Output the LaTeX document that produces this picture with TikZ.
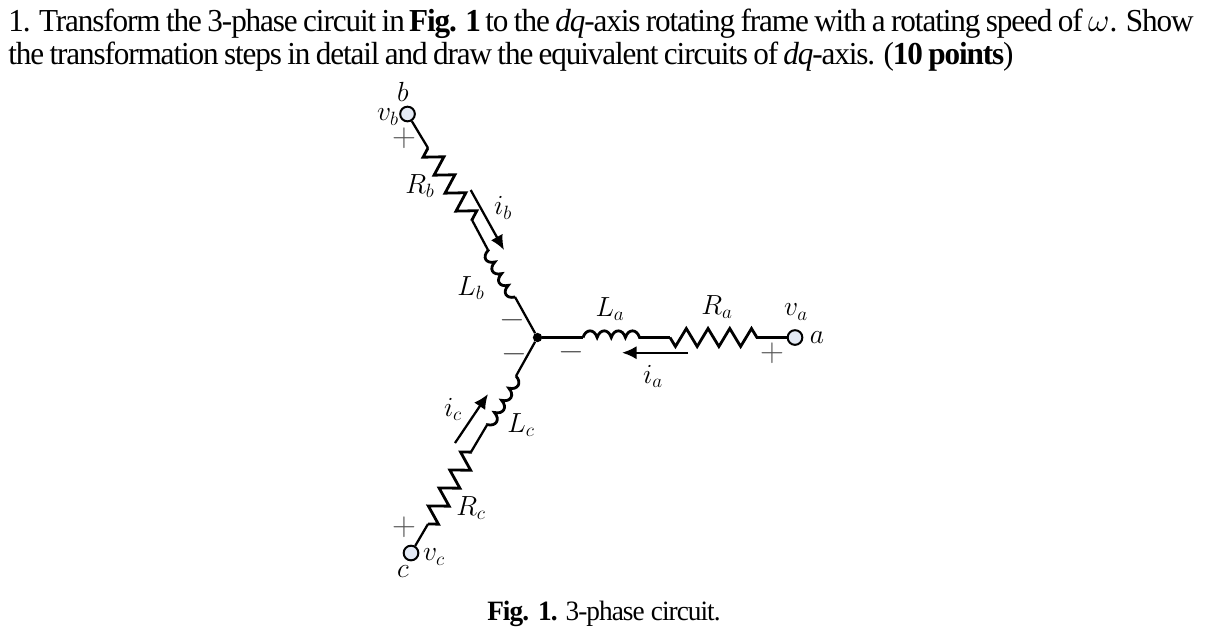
\documentclass[tikz,border=0pt]{standalone}
\usepackage{fontspec}
\setmainfont{Liberation Serif}
\newfontfamily\tightfont[LetterSpace=-3.5,FakeStretch=0.975]{Liberation Serif}
\usetikzlibrary{decorations.pathmorphing,arrows.meta}
\pgfdeclaredecoration{humps}{hump}{
  \state{hump}[width=\pgfdecorationsegmentlength]{
    \pgfpathcurveto
      {\pgfpoint{0.2\pgfdecorationsegmentlength}{1.33\pgfdecorationsegmentamplitude}}
      {\pgfpoint{0.8\pgfdecorationsegmentlength}{1.33\pgfdecorationsegmentamplitude}}
      {\pgfpoint{\pgfdecorationsegmentlength}{0pt}}
  }
  \state{final}{\pgfpathlineto{\pgfpointdecoratedpathlast}}
}
\definecolor{termfill}{HTML}{E4EAF5}
\definecolor{signgray}{HTML}{555555}
\tikzset{
  wire/.style={line width=1.7pt,black},
  resist/.style={line width=2.1pt,black,line join=miter,decorate,
    decoration={zigzag,amplitude=-6.75pt,segment length=#1}},
  induct/.style={line width=2.1pt,black,decorate,
    decoration={humps,amplitude=5pt,segment length=#1}},
  current/.style={line width=1.7pt,black,-{Latex[length=11pt,width=10pt]}},
  terminal/.style={circle,draw=black,fill=termfill,line width=1.5pt,inner sep=0pt,minimum size=11pt},
  junction/.style={circle,fill=black,inner sep=0pt,minimum size=7pt},
  lab/.style={inner sep=0pt,font=\fontsize{21}{23}\selectfont},
  sign/.style={inner sep=0pt,text=signgray,font=\fontsize{23}{23}\selectfont},
  textline/.style={inner sep=0pt,anchor=base west,font=\fontsize{24}{28}\selectfont\tightfont},
  capline/.style={inner sep=0pt,anchor=base west,font=\fontsize{21}{25}\selectfont\tightfont},
}
\begin{document}
\begin{tikzpicture}[x=0.75pt,y=-0.75pt]
\useasboundingbox[fill=white] (0,0) rectangle (1213,633);
% anchors
\node[junction] (N) at (537.5,337.5) {};
\node[terminal] (Ta) at (795,337.5) {};
\node[terminal] (Tb) at (407.5,114) {};
\node[terminal] (Tc) at (411,553) {};
\coordinate (La1) at (583,337.5); \coordinate (La2) at (640,337.5);
\coordinate (Ra1) at (670,337.5); \coordinate (Ra2) at (757,337.5);
\coordinate (Rb1) at (428,148); \coordinate (Rb2) at (472,220);
\coordinate (Lb1) at (488,250); \coordinate (Lb2) at (515,297);
\coordinate (Rc1) at (428,524); \coordinate (Rc2) at (471,452);
\coordinate (Lc1) at (487,425); \coordinate (Lc2) at (516,376);
% wires
\draw[wire] (N) -- (La1);
\draw[wire] (La2) -- (Ra1);
\draw[wire] (Ra2) -- (Ta);
\draw[wire] (Tb) -- (Rb1);
\draw[wire] (Rb2) -- (Lb1);
\draw[wire] (Lb2) -- (N);
\draw[wire] (Tc) -- (Rc1);
\draw[wire] (Rc2) -- (Lc1);
\draw[wire] (Lc2) -- (N);
% resistors and inductors
\draw[resist=16.3pt] (Ra1) -- (Ra2);
\draw[resist=15.8pt] (Rb1) -- (Rb2);
\draw[resist=15.7pt] (Rc1) -- (Rc2);
\draw[induct=10.6pt] (La1) -- (La2);
\draw[induct=10.1pt] (Lb2) -- (Lb1);
\draw[induct=10.6pt] (Lc2) -- (Lc1);
% currents
\coordinate (ia1) at (688,352.7); \coordinate (ia2) at (622,352.7);
\coordinate (ib1) at (470.7,190); \coordinate (ib2) at (504,250);
\coordinate (ic1) at (455,443); \coordinate (ic2) at (488,394);
\draw[current] (ia1) -- (ia2);
\draw[current] (ib1) -- (ib2);
\draw[current] (ic1) -- (ic2);
% signs
\node[sign] (pa) at (772,353) {$+$};
\node[sign] (ma) at (571,352) {$-$};
\node[sign] (pb) at (404,138) {$+$};
\node[sign] (mb) at (512,320) {$-$};
\node[sign] (pc) at (404,527) {$+$};
\node[sign] (mc) at (514,354) {$-$};
% labels
\node[lab] (lLa) at (610,309) {$L_a$};
\node[lab] (lRa) at (717,307) {$R_a$};
\node[lab] (lva) at (796,312) {$v_a$};
\node[lab] (la) at (817,338) {$a$};
\node[lab] (lia) at (653,376) {$i_a$};
\node[lab] (lb) at (403,92) {$b$};
\node[lab] (lvb) at (388,117) {$v_b$};
\node[lab] (lRb) at (420,186) {$R_b$};
\node[lab] (lib) at (503,208) {$i_b$};
\node[lab] (lLb) at (471,288) {$L_b$};
\node[lab] (lic) at (453,409) {$i_c$};
\node[lab] (lLc) at (521,425) {$L_c$};
\node[lab] (lRc) at (471,508) {$R_c$};
\node[lab] (lvc) at (434,557) {$v_c$};
\node[lab] (lc) at (403,572) {$c$};
% text
\node[textline] (t1) at (8,31) {\hbox to 889pt{1. Transform the 3-phase circuit in \textbf{Fig. 1} to the \textit{dq}-axis rotating frame with a rotating speed of $\omega$. Show}};
\node[textline] (t2) at (8,64) {\hbox to 754pt{the transformation steps in detail and draw the equivalent circuits of \textit{dq}-axis. (\textbf{10 points})}};
\node[capline] (cap) at (487,620) {\hbox to 175pt{\textbf{Fig. 1.} 3-phase circuit.}};
\end{tikzpicture}
\end{document}
